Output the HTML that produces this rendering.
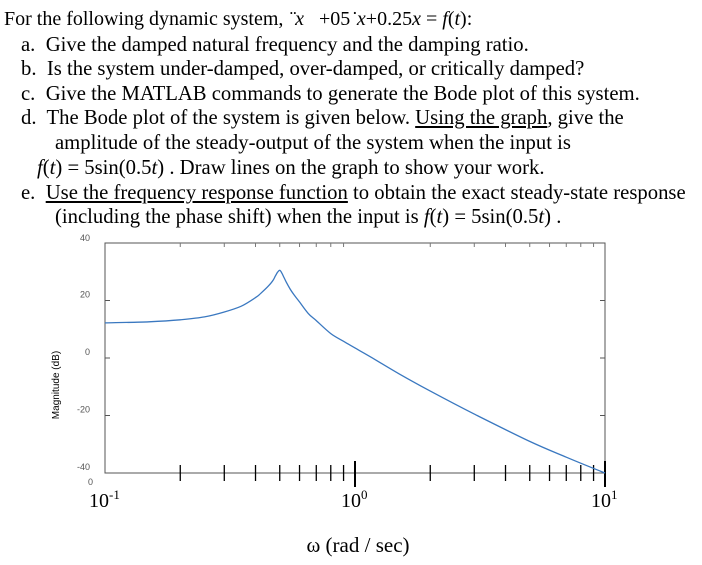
<!DOCTYPE html>
<html><head><meta charset="utf-8"><style>
body{margin:0;background:#fff;width:702px;height:565px;overflow:hidden;position:relative;font-family:"Liberation Serif",serif;}
.t{position:absolute;font-size:20.7px;white-space:nowrap;color:#000;}
.u{text-decoration:underline;}
i{font-style:italic;}
</style></head><body>
<div class="t" style="left:4px;top:8px;font-size:20px;">For the following dynamic system, <i>¨x</i> &nbsp; +05<i>˙x</i>+0.25<i>x</i> = <i>f</i>(<i>t</i>):</div>
<div class="t" style="left:21px;top:34px;">a.&nbsp; Give the damped natural frequency and the damping ratio.</div>
<div class="t" style="left:21px;top:58px;">b.&nbsp; Is the system under-damped, over-damped, or critically damped?</div>
<div class="t" style="left:21px;top:83px;">c.&nbsp; Give the MATLAB commands to generate the Bode plot of this system.</div>
<div class="t" style="left:21px;top:107px;">d.&nbsp; The Bode plot of the system is given below. <span class="u">Using the graph</span>, give the</div>
<div class="t" style="left:55px;top:132px;">amplitude of the steady-output of the system when the input is</div>
<div class="t" style="left:37px;top:157px;"><i>f</i>(<i>t</i>) = 5sin(0.5<i>t</i>) . Draw lines on the graph to show your work.</div>
<div class="t" style="left:21px;top:182px;">e.&nbsp; <span class="u">Use the frequency response function</span> to obtain the exact steady-state response</div>
<div class="t" style="left:55px;top:206px;">(including the phase shift) when the input is <i>f</i>(<i>t</i>) = 5sin(0.5<i>t</i>) .</div>

<svg id="chart" width="702" height="565" style="position:absolute;left:0;top:0;">
</svg>
<script>
const freqs=[0.1,0.15,0.2,0.25,0.3,0.35,0.4,0.42,0.45,0.47,0.48,0.49,0.5,0.51,0.52,0.53,0.55,0.57,0.6,0.65,0.7,0.8,0.9,1,1.2,1.5,2,3,5,7,10];
const magDb=[12.2,12.6,13.3,14.3,16,18,21,22.5,25,27,28.5,29.8,30.5,29.5,28,26.5,24,22,19.5,15.5,13,8.5,5.8,3.5,-0.5,-5.5,-11.5,-19.5,-29,-34.5,-40];
const yTicks=[40,20,0,-20,-40];
const xMinor=[0.2,0.3,0.4,0.5,0.6,0.7,0.8,0.9,2,3,4,5,6,7,8,9];
const xMajor=[0.1,1,10];
const xLabels=["-1","0","1"];
const L=105,R=605,T=243,B=473;
const X=w=>L+(Math.log10(w)+1)/2*(R-L);
const Y=d=>T+(40-d)/80*(B-T);
const svg=document.getElementById('chart');
const NS='http://www.w3.org/2000/svg';
function mk(tag,a,parent){const e=document.createElementNS(NS,tag);for(const k in a)e.setAttribute(k,a[k]);(parent||svg).appendChild(e);return e;}
let f=mk('rect',{x:L,y:T,width:R-L,height:B-T,fill:'none',stroke:'#555','stroke-width':1});


yTicks.forEach(v=>{
  let t=mk('text',{x:90,y:Y(v)+(v===40?-2:-3),'font-size':9,'font-family':'Liberation Sans,sans-serif',fill:'#555','text-anchor':'end'});
  t.textContent=v;
  
  
  if(v!==40&&v!==-40){let l=mk('line',{x1:L,x2:L+5,y1:Y(v),y2:Y(v),stroke:'#555'});
  let r=mk('line',{x1:R-5,x2:R,y1:Y(v),y2:Y(v),stroke:'#555'});}
});
let z=mk('text',{x:88,y:485,'font-size':9,'font-family':'Liberation Sans,sans-serif',fill:'#555'});z.textContent='0';


xMinor.forEach(w=>{
  let l=mk('line',{x1:X(w),x2:X(w),y1:B-8,y2:B+8,stroke:'#000','stroke-width':1.3});
  
  
  let tp=mk('line',{x1:X(w),x2:X(w),y1:T,y2:T+4,stroke:'#777'});
  
  
});
xMajor.forEach((w,i)=>{
  if(i>0){let l=mk('line',{x1:X(w),x2:X(w),y1:B-12,y2:B+14,stroke:'#000','stroke-width':2});
  
  }
  let t=mk('text',{x:X(w)-16+(i===0?0:2),y:507,'font-size':20,'font-family':'Liberation Serif,serif',fill:'#000'});
  t.textContent='10';
  let s=mk('tspan',{dy:-8,'font-size':13},t);s.textContent=xLabels[i];
  
  
});
const pts=freqs.map((w,i)=>[X(w),Y(magDb[i])]);
let d='M'+pts[0][0].toFixed(1)+','+pts[0][1].toFixed(1);
for(let i=0;i<pts.length-1;i++){
  const p0=pts[Math.max(0,i-1)],p1=pts[i],p2=pts[i+1],p3=pts[Math.min(pts.length-1,i+2)];
  const c1=[p1[0]+(p2[0]-p0[0])/6,p1[1]+(p2[1]-p0[1])/6],c2=[p2[0]-(p3[0]-p1[0])/6,p2[1]-(p3[1]-p1[1])/6];
  d+='C'+c1.map(v=>v.toFixed(1)).join(',')+' '+c2.map(v=>v.toFixed(1)).join(',')+' '+p2.map(v=>v.toFixed(1)).join(',');
}
let p=mk('path',{d:d,fill:'none',stroke:'#3a78c0','stroke-width':1.3,'stroke-linejoin':'round'});


let yt=mk('text',{x:0,y:0,transform:'translate(59,385) rotate(-90)','font-size':10,'font-family':'Liberation Sans,sans-serif','text-anchor':'middle',fill:'#000'});
yt.textContent='Magnitude (dB)';


let xt=mk('text',{x:358,y:552,'font-size':21,'font-family':'Liberation Serif,serif','text-anchor':'middle',fill:'#000'});
xt.textContent='ω (rad / sec)';


</script>
</body></html>
